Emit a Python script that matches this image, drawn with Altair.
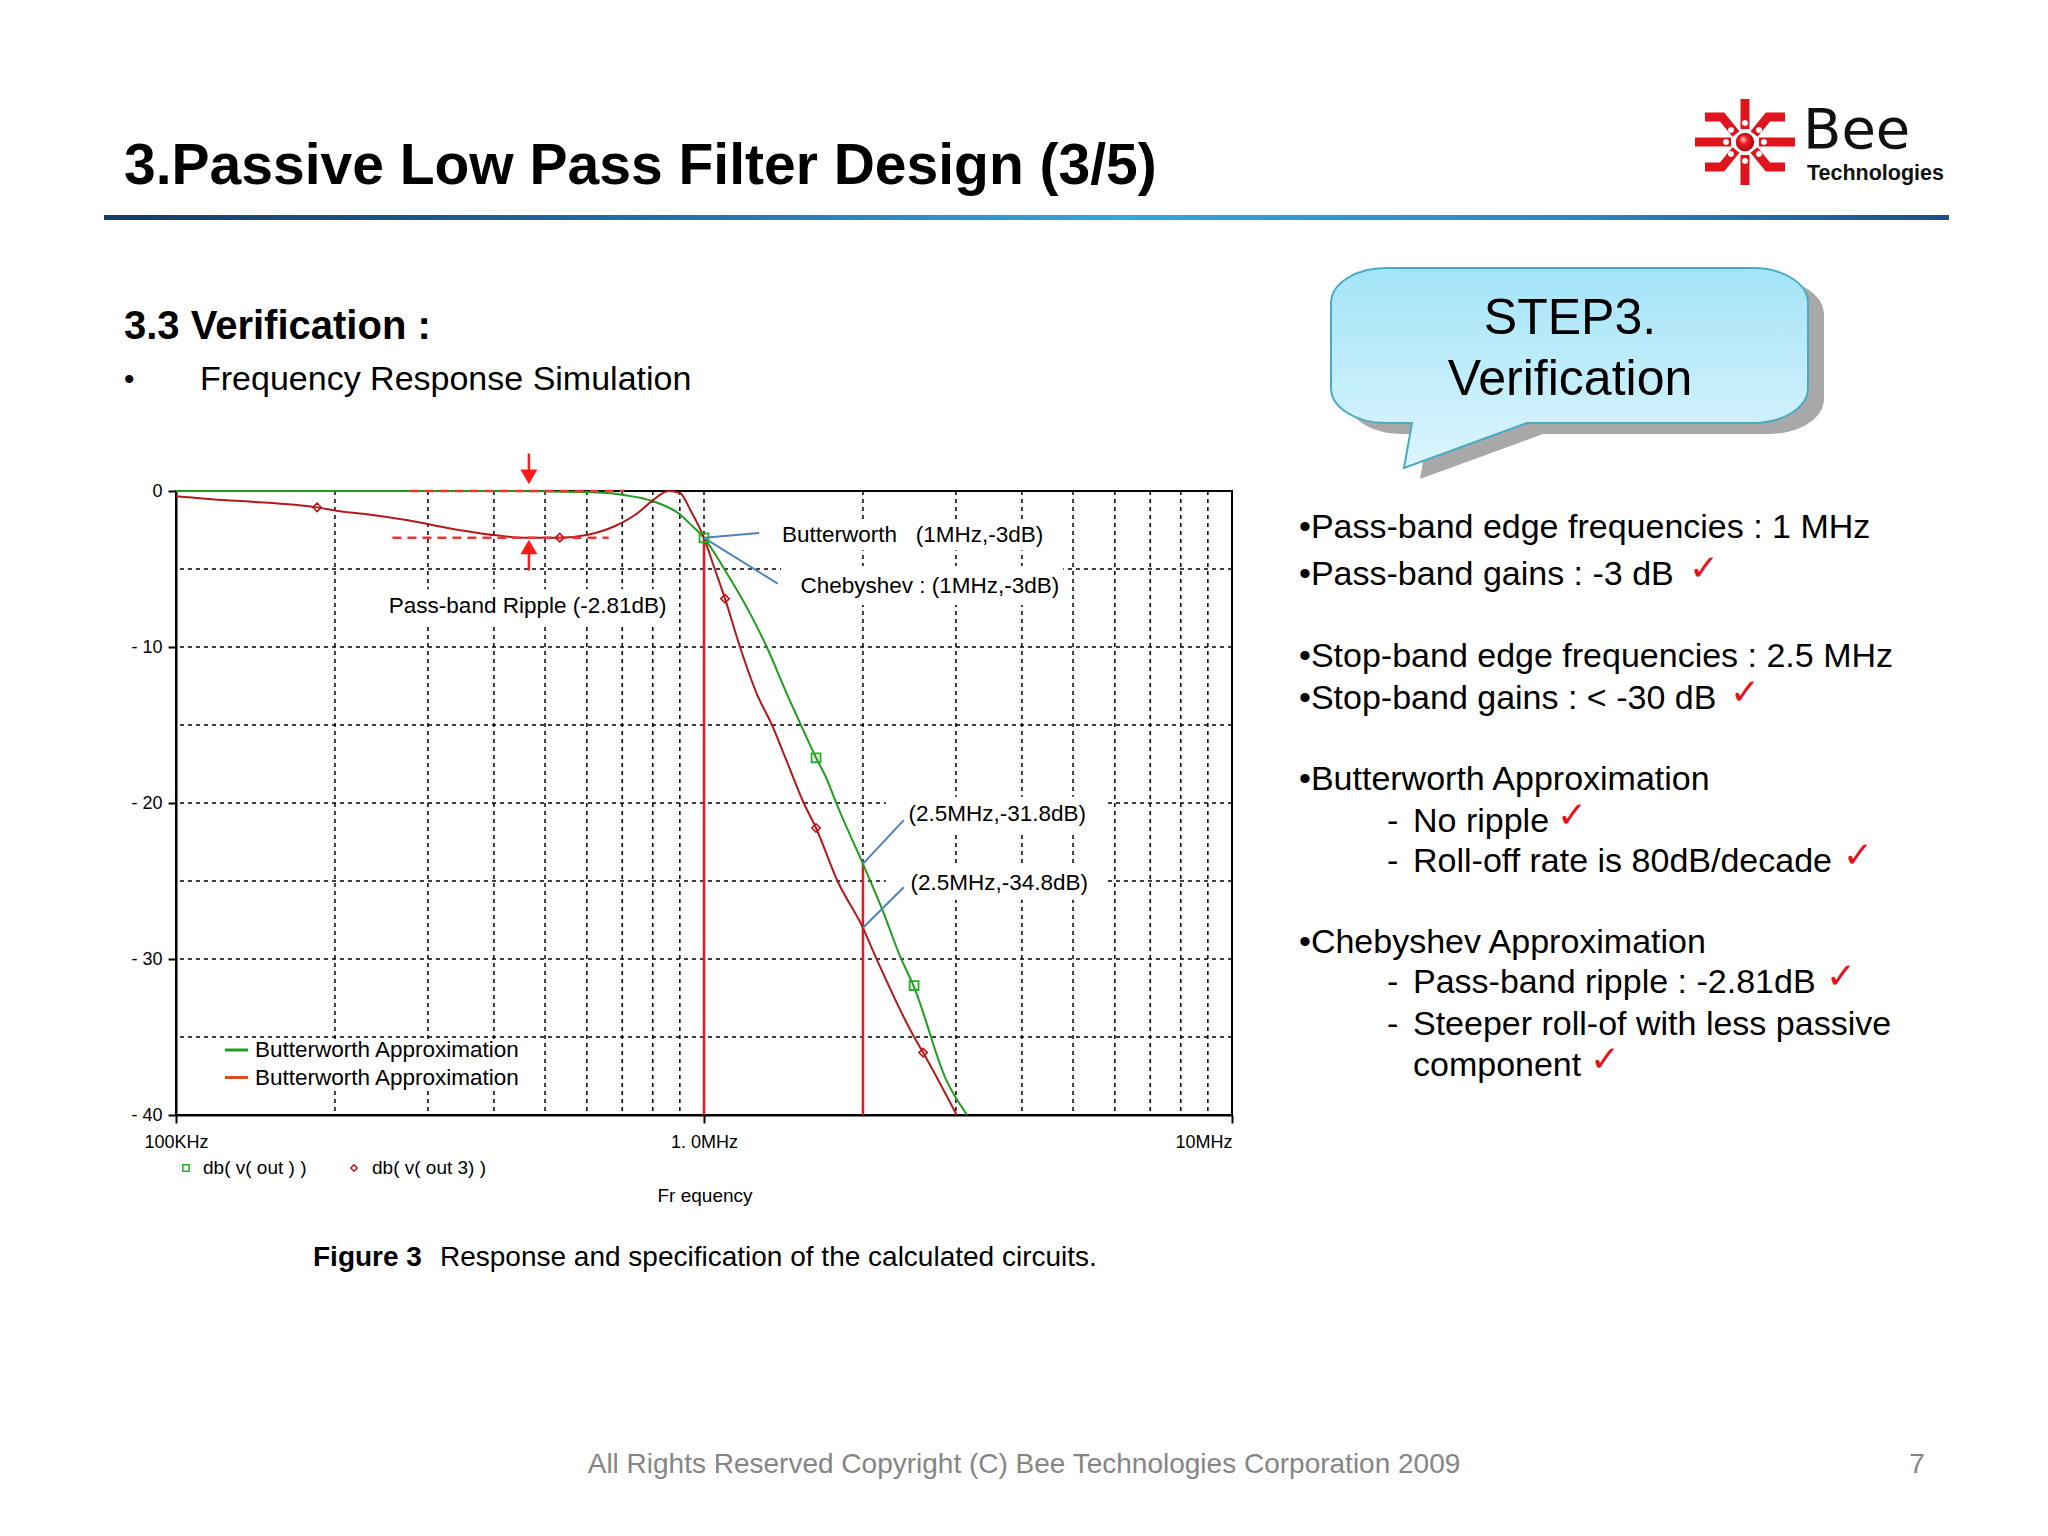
import math
import altair as alt
import pandas as pd

# ---------------- series (frequency in Hz, magnitude in dB) ----------------
bw_freq = [1.0e5, 2.0e5, 3.0e5, 4.0e5, 5.0e5, 6.0e5, 7.0e5, 8.0e5, 9.0e5, 9.4e5,
           1.0e6, 1.088e6, 1.223e6, 1.315e6, 1.435e6, 1.521e6, 1.63e6, 1.71e6,
           1.78e6, 2.0e6, 2.18e6, 2.35e6, 2.5e6, 2.88e6, 3.15e6]
bw_db = [0.0, 0.0, 0.0, 0.0, -0.02, -0.07, -0.24, -0.65, -1.5, -2.09,
         -3.0, -4.9, -7.86, -10.0, -13.0, -14.9, -17.1, -18.5,
         -20.0, -23.9, -26.9, -29.8, -31.8, -37.8, -40.0]

ch_freq = [1.0e5, 1.25e5, 1.41e5, 1.85e5, 2.03e5, 2.32e5, 2.75e5, 3.25e5, 4.04e5, 4.54e5,
           5.33e5, 6.03e5, 6.77e5, 7.49e5, 8.0e5, 8.56e5, 9.0e5, 9.45e5, 1.0e6, 1.042e6,
           1.096e6, 1.17e6, 1.259e6, 1.345e6, 1.43e6, 1.545e6, 1.63e6, 1.79e6, 2.0e6, 2.11e6,
           2.5e6, 2.6e6, 3.01e6]
ch_db = [-0.34, -0.6, -0.7, -1.05, -1.28, -1.5, -1.88, -2.35, -2.84, -2.99,
         -2.99, -2.8, -2.26, -1.41, -0.6, 0.0, -0.13, -1.3, -3.0, -4.76,
         -6.9, -10.0, -13.0, -15.0, -17.2, -20.0, -21.6, -25.0, -28.0, -29.8,
         -35.0, -36.0, -40.0]

bw_mark_freq = [1.0e6, 1.63e6, 2.5e6]
bw_mark_db = [-3.0, -17.1, -31.7]
ch_mark_freq = [1.85e5, 5.33e5, 1.096e6, 1.63e6, 2.6e6]
ch_mark_db = [-1.05, -2.99, -6.9, -21.6, -36.0]

# grid and ticks
x_grid = [2e5, 3e5, 4e5, 5e5, 6e5, 7e5, 8e5, 9e5, 1e6,
          2e6, 3e6, 4e6, 5e6, 6e6, 7e6, 8e6, 9e6]
y_grid = [-5, -10, -15, -20, -25, -30, -35]
x_ticks = [100000, 1000000, 10000000]
x_tick_labels = ["100KHz", "1. 0MHz", "10MHz"]
y_ticks = [0, -10, -20, -30, -40]
y_tick_labels = ["0", "- 10", "- 20", "- 30", "- 40"]

# marker / annotation geometry in data units
vline_freq = [1.0e6, 2.0e6]
vline_top = [-3.0, -23.9]
ripple_f1 = [2.77e5, 2.57e5]
ripple_f2 = [7.06e5, 6.60e5]
ripple_db = [0.0, -2.99]
leader_f1 = [1.0e6, 1.0e6, 2.0e6, 2.0e6]
leader_d1 = [-3.0, -3.0, -23.9, -28.0]
leader_f2 = [1.272e6, 1.379e6, 2.39e6, 2.39e6]
leader_d2 = [-2.69, -5.94, -21.1, -25.4]
arrow_freq = 4.66e5

ann_text = ["Butterworth\u00a0\u00a0\u00a0(1MHz,-3dB)", "Chebyshev : (1MHz,-3dB)",
            "Pass-band Ripple (-2.81dB)", "(2.5MHz,-31.8dB)", "(2.5MHz,-34.8dB)"]
ann_freq = [1.405e6, 1.523e6, 2.53e5, 2.44e6, 2.46e6]
ann_db = [-2.8, -6.09, -7.37, -20.7, -25.1]
box_f1 = [1.346e6, 1.40e6, 2.43e5, 2.21e6, 2.21e6]
box_f2 = [4.63e6, 4.79e6, 8.85e5, 5.81e6, 5.81e6]
box_d1 = [-1.8, -4.8, -6.3, -19.6, -24.0]
box_d2 = [-3.8, -7.3, -8.5, -21.8, -26.2]

legend_labels = ["Butterworth Approximation", "Butterworth Approximation"]
trace_labels = ["db( v( out ) )", "db( v( out 3) )"]

# slide text
title_text = "3.Passive Low Pass Filter Design (3/5)"
heading_text = "3.3 Verification :"
sub_text = "Frequency Response Simulation"
bubble_lines = ["STEP3.", "Verification"]
spec_lines = ["\u2022Pass-band edge frequencies : 1 MHz", "\u2022Pass-band gains : -3 dB",
              "\u2022Stop-band edge frequencies : 2.5 MHz", "\u2022Stop-band gains : < -30 dB",
              "\u2022Butterworth Approximation", "-", "No ripple", "-", "Roll-off rate is 80dB/decade",
              "\u2022Chebyshev Approximation", "-", "Pass-band ripple : -2.81dB",
              "-", "Steeper roll-of with less passive", "component"]
caption_bold = "Figure 3"
caption_text = "Response and specification of the calculated circuits."
footer_text = "All Rights Reserved Copyright (C) Bee Technologies Corporation 2009"
page_no = "7"
xaxis_title = "Fr equency"
logo_word = "Bee"
logo_sub = "Technologies"

# ---------------- layout (page pixels) ----------------
OX, OY = 176, 491          # page position of the plot origin
W, H = 1056, 624
SANS = "Liberation Sans"
GREEN = "#1e9e1e"
DARKRED = "#b3191c"
BRIGHTRED = "#e8161e"
BLUE = "#4f81bd"

spec_pos = [(1299, 527.6), (1299, 574.6), (1299, 657), (1299, 698.7), (1299, 779.7),
            (1387, 821.5), (1413, 821.5), (1387, 862), (1413, 862), (1299, 943),
            (1387, 983.4), (1413, 983.4), (1387, 1025), (1413, 1025), (1413, 1065.7)]
check_pos = [(1704, 569), (1745, 693), (1572, 816), (1858, 856), (1841, 977), (1605, 1060)]

one = pd.DataFrame({"k": [0]})


def px(X, Y):
    return dict(x=alt.value(X - OX), y=alt.value(Y - OY))


def label(s, X, Y, size, weight="normal", color="black", align="left", font=SANS, baseline="middle"):
    return alt.Chart(one).mark_text(text=s, font=font, fontSize=size, fontWeight=weight,
                                    color=color, align=align, baseline=baseline).encode(**px(X, Y))


def shape(path, X, Y, **kw):
    return alt.Chart(one).mark_point(shape=path, size=4, opacity=1, **kw).encode(**px(X, Y))


def label_expr(vals, labs):
    expr = "''"
    for v, l in reversed(list(zip(vals, labs))):
        expr = f"datum.value == {v} ? '{l}' : {expr}"
    return expr


xs = alt.Scale(type="log", domain=[1e5, 1e7], nice=False)
ys = alt.Scale(domain=[-40, 0], nice=False, zero=False)

x_axis = alt.Axis(values=x_ticks, labelExpr=label_expr(x_ticks, x_tick_labels), title=None,
                  grid=False, labelFlush=False, tickSize=8, tickWidth=2, tickColor="black",
                  domainColor="black", domainWidth=2, labelFont=SANS, labelFontSize=18,
                  labelColor="black", labelPadding=10,
                  labelAlign={"condition": {"test": "datum.value >= 10000000", "value": "right"},
                              "value": "center"})
y_axis = alt.Axis(values=y_ticks, labelExpr=label_expr(y_ticks, y_tick_labels), title=None,
                  grid=False, tickSize=8, tickWidth=2, tickColor="black",
                  domainColor="black", domainWidth=2, labelFont=SANS, labelFontSize=18,
                  labelColor="black", labelPadding=6)


def X(f):
    return alt.X(f, type="quantitative", scale=xs, axis=x_axis)


def Y(f):
    return alt.Y(f, type="quantitative", scale=ys, axis=y_axis)


layers = []

# ---------- slide decorations ----------
band_grad = {"gradient": "linear", "x1": 0, "y1": 0, "x2": 1, "y2": 0,
             "stops": [{"offset": 0, "color": "#163a66"}, {"offset": 0.3, "color": "#1f6fa8"},
                       {"offset": 0.55, "color": "#34a7dc"}, {"offset": 0.8, "color": "#2a86c4"},
                       {"offset": 1, "color": "#1a4f86"}]}
layers.append(alt.Chart(one).mark_rect(fill=band_grad).encode(
    x=alt.value(104 - OX), x2=alt.value(1949 - OX), y=alt.value(215 - OY), y2=alt.value(220 - OY)))

bubble_path = ("M55,0L422,0A55,35 0 0 1 477,35L477,120A55,35 0 0 1 422,155L196,155L73,200"
               "L81,155L55,155A55,35 0 0 1 0,120L0,35A55,35 0 0 1 55,0Z")
bubble_grad = {"gradient": "linear", "x1": 0, "y1": 0, "x2": 0, "y2": 1,
               "stops": [{"offset": 0, "color": "#a3e4f8"}, {"offset": 1, "color": "#dcf5fd"}]}
layers.append(shape(bubble_path, 1347, 279, filled=True, fill="#a8a8a8", strokeWidth=0))
layers.append(shape(bubble_path, 1331, 268, filled=True, fill=bubble_grad,
                    stroke="#4aaac4", strokeWidth=2))

# logo star
arms = "M-50,0L-14,0M14,0L50,0M0,-43L0,-13M0,13L0,43"
for sx, sy in [(-1, -1), (1, -1), (-1, 1), (1, 1)]:
    arms += f"M{sx*9},{sy*8}L{sx*23},{sy*25}L{sx*40},{sy*25}"
holes = ""
for hx, hy in [(-19, 0), (19, 0), (0, -19), (0, 19), (-14, -12), (14, -12), (-14, 12), (14, 12)]:
    holes += f"M{hx-3},{hy}a3,3 0 1,0 6,0a3,3 0 1,0 -6,0"
LX, LY = 1745, 142
layers.append(shape(arms, LX, LY, filled=False, color="#e0141c", strokeWidth=9, strokeCap="butt"))
layers.append(shape(holes, LX, LY, filled=True, color="white"))
ball_grad = {"gradient": "radial", "x1": 0.38, "y1": 0.32, "r1": 0, "x2": 0.5, "y2": 0.5, "r2": 0.55,
             "stops": [{"offset": 0, "color": "#ffd6d6"}, {"offset": 0.4, "color": "#f01e24"},
                       {"offset": 1, "color": "#a00010"}]}
layers.append(alt.Chart(one).mark_point(shape="circle", size=340, filled=True, fill=ball_grad,
                                        opacity=1, strokeWidth=0).encode(**px(LX, LY)))
layers.append(label(logo_word, 1803, 148, 56, color="#111111", font="DejaVu Sans", baseline="alphabetic"))
layers.append(label(logo_sub, 1807, 180, 21.5, weight="bold", color="#111111", baseline="alphabetic"))

# ---------- plot ----------
layers.append(alt.Chart(pd.DataFrame({"f": x_grid})).mark_rule(
    color="black", strokeWidth=1.5, strokeDash=[4, 4]).encode(x=X("f")))
layers.append(alt.Chart(pd.DataFrame({"d": y_grid})).mark_rule(
    color="black", strokeWidth=1.5, strokeDash=[4, 4]).encode(y=Y("d")))

layers.append(alt.Chart(pd.DataFrame({"f1": box_f1, "f2": box_f2, "d1": box_d1, "d2": box_d2}))
              .mark_rect(color="white").encode(x=X("f1"), x2="f2", y=Y("d1"), y2="d2"))

# legend box (white) inside the plot
layers.append(alt.Chart(one).mark_rect(color="white").encode(
    x=alt.value(219 - OX), x2=alt.value(527 - OX), y=alt.value(1040 - OY), y2=alt.value(1090 - OY)))

layers.append(alt.Chart(pd.DataFrame({"f": vline_freq, "top": vline_top, "bot": [-40.0, -40.0]}))
              .mark_rule(color=BRIGHTRED, strokeWidth=2.5).encode(x=X("f"), y=Y("top"), y2="bot"))

layers.append(alt.Chart(pd.DataFrame({"f": bw_freq, "d": bw_db})).mark_line(
    color=GREEN, strokeWidth=2, interpolate="monotone").encode(x=X("f"), y=Y("d")))
layers.append(alt.Chart(pd.DataFrame({"f": ch_freq, "d": ch_db})).mark_line(
    color=DARKRED, strokeWidth=2, interpolate="monotone").encode(x=X("f"), y=Y("d")))

layers.append(alt.Chart(pd.DataFrame({"f1": ripple_f1, "f2": ripple_f2, "d": ripple_db}))
              .mark_rule(color="#f03434", strokeWidth=2.5, strokeDash=[9, 6])
              .encode(x=X("f1"), x2="f2", y=Y("d")))

layers.append(alt.Chart(pd.DataFrame({"f1": leader_f1, "d1": leader_d1, "f2": leader_f2, "d2": leader_d2}))
              .mark_rule(color=BLUE, strokeWidth=2).encode(x=X("f1"), x2="f2", y=Y("d1"), y2="d2"))

# ripple arrows
layers.append(alt.Chart(pd.DataFrame({"f": [arrow_freq, arrow_freq], "d1": [2.4, -5.1], "d2": [0.9, -3.59]}))
              .mark_rule(color="#ff1a1a", strokeWidth=2.5).encode(x=X("f"), y=Y("d1"), y2="d2"))
layers.append(alt.Chart(pd.DataFrame({"f": [arrow_freq], "d": [0.9]})).mark_point(
    shape="triangle-down", size=289, filled=True, color="#ff1a1a", opacity=1).encode(x=X("f"), y=Y("d")))
layers.append(alt.Chart(pd.DataFrame({"f": [arrow_freq], "d": [-3.59]})).mark_point(
    shape="triangle-up", size=289, filled=True, color="#ff1a1a", opacity=1).encode(x=X("f"), y=Y("d")))

layers.append(alt.Chart(pd.DataFrame({"f": bw_mark_freq, "d": bw_mark_db})).mark_point(
    shape="square", size=80, filled=False, color="#22b022", strokeWidth=1.8, opacity=1)
    .encode(x=X("f"), y=Y("d")))
layers.append(alt.Chart(pd.DataFrame({"f": ch_mark_freq, "d": ch_mark_db})).mark_point(
    shape="diamond", size=70, filled=False, color="#c0141c", strokeWidth=1.6, opacity=1)
    .encode(x=X("f"), y=Y("d")))

layers.append(alt.Chart(pd.DataFrame({"t": ann_text, "f": ann_freq, "d": ann_db})).mark_text(
    font=SANS, fontSize=22.5, color="black", align="left", baseline="middle")
    .encode(x=X("f"), y=Y("d"), text="t:N"))

# in-plot legend
for (col, yy, txt) in [(GREEN, 1050, legend_labels[0]), ("#dd4a1e", 1077.5, legend_labels[1])]:
    layers.append(alt.Chart(one).mark_rule(color=col, strokeWidth=3).encode(
        x=alt.value(225 - OX), x2=alt.value(248 - OX), y=alt.value(yy - OY)))
    layers.append(label(txt, 255, yy, 22.5))

# trace legend under the axis
layers.append(alt.Chart(one).mark_point(shape="square", size=40, filled=False, color="#22b022",
                                        strokeWidth=1.5, opacity=1).encode(**px(186, 1168)))
layers.append(label(trace_labels[0], 203, 1168, 19))
layers.append(alt.Chart(one).mark_point(shape="diamond", size=40, filled=False, color="#c0141c",
                                        strokeWidth=1.5, opacity=1).encode(**px(354, 1168)))
layers.append(label(trace_labels[1], 372, 1168, 19))
layers.append(label(xaxis_title, 705, 1196, 19, align="center"))

# ---------- slide text ----------
layers.append(label(title_text, 124, 167, 57, weight="bold"))
layers.append(label(heading_text, 124, 326.5, 40, weight="bold"))
layers.append(label("\u2022", 124, 380, 30))
layers.append(label(sub_text, 200, 380, 34))
layers.append(label(bubble_lines[0], 1570, 319, 50, align="center"))
layers.append(label(bubble_lines[1], 1570, 380, 50, align="center"))
for s, (sx, sy) in zip(spec_lines, spec_pos):
    layers.append(label(s, sx, sy, 34))
for (cx, cy) in check_pos:
    layers.append(label("\u2713", cx, cy, 36, color="#e8101a", align="center", font="DejaVu Sans"))
layers.append(label(caption_bold, 313, 1258, 28, weight="bold"))
layers.append(label(caption_text, 440, 1258, 28))
layers.append(label(footer_text, 1024, 1465, 28, color="#858585", align="center"))
layers.append(label(page_no, 1917, 1465, 28, color="#858585", align="center"))

chart = (alt.layer(*layers)
         .properties(width=W, height=H, background="white",
                     autosize=alt.AutoSizeParams(type="none"),
                     padding={"left": OX - 8, "top": OY - 8, "right": 2040 - OX - W - 8,
                              "bottom": 1520 - OY - H - 8})
         .configure_view(stroke="black", strokeWidth=2))

chart.save("out.html", embed_options={"renderer": "svg", "actions": False})
